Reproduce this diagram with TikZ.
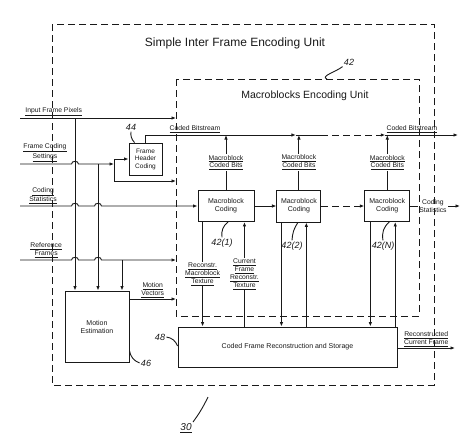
\documentclass[tikz,border=0pt]{standalone}
\usepackage{fontspec}
\setmainfont{Liberation Sans}
\usepackage{xcolor}
\usetikzlibrary{positioning,arrows,arrows.meta,calc}
\definecolor{inkblack}{RGB}{25,25,25}

\begin{document}
\begin{tikzpicture}[x=1pt, y=-1pt, >={Latex[length=4.5pt,width=3.5pt]}, line width=0.9pt, color=inkblack]
    \tikzstyle{block} = [rectangle, draw, text centered, align=center, font=\fontsize{7}{8}\selectfont, inner sep=1pt]
    \tikzstyle{signal} = [align=center, font=\fontsize{6.8}{7.8}\selectfont, inner sep=1pt]
    \tikzstyle{unit} = [draw, dash pattern=on 7pt off 4pt]
    \tikzstyle{hop} = [bend left=90, looseness=1.3]
    \tikzstyle{refnum} = [font=\itshape\fontsize{9}{9}\selectfont, inner sep=1pt]

    \useasboundingbox (0,0) rectangle (474,447);

    % Unit boundaries
    \draw[unit] (52,24) rectangle (434,385);
    \draw[unit] (176,79) rectangle (419,316);
    \node[font=\fontsize{12}{12}\selectfont] (outer_title) at (235,43) {Simple Inter Frame Encoding Unit};
    \node[font=\fontsize{10.5}{10.5}\selectfont] (inner_title) at (305,96) {Macroblocks Encoding Unit};

    % Coding blocks
    \node[block, minimum width=33pt, minimum height=32pt, font=\fontsize{6.5}{7.5}\selectfont] (header) at (145.5,159) {Frame\\Header\\Coding};
    \node[block, minimum width=56pt, minimum height=31pt] (mb_one) at (226,206) {Macroblock\\Coding};
    \node[block, minimum width=44pt, minimum height=32pt, right=22pt of mb_one] (mb_two) {Macroblock\\Coding};
    \node[block, minimum width=45pt, minimum height=31pt, right=43pt of mb_two] (mb_n) {Macroblock\\Coding};
    \node[block, minimum width=64pt, minimum height=71pt] (motion) at (97,326.5) {Motion\\Estimation};
    \node[block, minimum width=219pt, minimum height=40pt] (storage) at (287.5,347) {Coded Frame Reconstruction and Storage};

    % Signal ends
    \coordinate (pix_in) at (20,118);
    \coordinate (pix_end) at (176,118);
    \coordinate (set_in) at (20,164);
    \coordinate (set_fork) at (114,164);
    \coordinate (stat_in) at (20,206);
    \coordinate (ref_in) at (20,260);
    \coordinate (ref_end) at (176,260);
    \coordinate (hdr_end) at (176,181);
    \coordinate (mv_end) at (176,299);
    \coordinate (bits_out) at (458,135);
    \coordinate (stat_out) at (460,206);
    \coordinate (recon_out) at (455,348);
    \coordinate (tap_pix) at (75,118);
    \coordinate (tap_set) at (98,164);
    \coordinate (tap_ref) at (122,260);

    % Inputs
    \draw[->] (pix_in) -- (pix_end);
    \node[signal, above right=1pt and 4pt of pix_in] (pix_lbl) {\underline{Input Frame Pixels}};
    \draw[->] (set_in) -- ([xshift=-3.5pt]tap_pix |- set_in) to[hop] ([xshift=3.5pt]tap_pix |- set_in) -- (set_fork);
    \node[signal, above right=1pt and 2pt of set_in] (set_lbl) {\underline{Frame Coding}\\\underline{Settings}};
    \draw[->] (stat_in) -- ([xshift=-3.5pt]tap_pix |- stat_in) to[hop] ([xshift=3.5pt]tap_pix |- stat_in)
        -- ([xshift=-3.5pt]tap_set |- stat_in) to[hop] ([xshift=3.5pt]tap_set |- stat_in) -- (mb_one.west |- stat_in);
    \node[signal, above right=1pt and 8pt of stat_in] (stat_lbl) {\underline{Coding}\\\underline{Statistics}};
    \draw[->] (ref_in) -- ([xshift=-3.5pt]tap_pix |- ref_in) to[hop] ([xshift=3.5pt]tap_pix |- ref_in)
        -- ([xshift=-3.5pt]tap_set |- ref_in) to[hop] ([xshift=3.5pt]tap_set |- ref_in) -- (ref_end);
    \node[signal, above right=1pt and 9pt of ref_in] (ref_lbl) {\underline{Reference}\\\underline{Frames}};

    % Frame header
    \draw (set_fork |- header.west) -- (set_fork |- hdr_end);
    \draw[->] (set_fork |- header.west) -- (header.west);
    \draw[->] (set_fork |- hdr_end) -- (hdr_end);

    % Motion estimation
    \draw[->] (tap_pix) -- (tap_pix |- motion.north);
    \draw[->] (tap_set) -- (tap_set |- motion.north);
    \draw[->] (tap_ref) -- (tap_ref |- motion.north);
    \draw[->] (motion.east |- mv_end) -- (mv_end) node[signal, midway, above] {\underline{Motion}\\\underline{Vectors}};

    % Coded bitstream
    \draw[->] (header.north) |- ([xshift=-3pt]mb_two.north |- bits_out);
    \draw ([xshift=-3pt]mb_two.north |- bits_out) -- (mb_two.east |- bits_out);
    \draw[->, dash pattern=on 7pt off 4pt] (mb_two.east |- bits_out) -- ([xshift=-2pt]mb_n.north |- bits_out);
    \draw[->] ([xshift=-2pt]mb_n.north |- bits_out) -- (bits_out);
    \node[signal] (bits_lbl) at (195,129) {\underline{Coded Bitstream}};
    \node[signal] (bits_out_lbl) at (412,129) {\underline{Coded Bitstream}};
    \draw[->] (mb_one.north) -- (mb_one.north |- bits_out) node[signal, midway, fill=white] {\underline{Macroblock}\\\underline{Coded Bits}};
    \draw[->] (mb_two.north) -- (mb_two.north |- bits_out) node[signal, midway, fill=white] {\underline{Macroblock}\\\underline{Coded Bits}};
    \draw[->] (mb_n.north) -- (mb_n.north |- bits_out) node[signal, midway, fill=white] {\underline{Macroblock}\\\underline{Coded Bits}};

    % Macroblock chain
    \draw[->] (mb_one) -- (mb_two);
    \draw[->, dash pattern=on 7pt off 4pt] (mb_two) -- (mb_n);
    \node[signal] (stat_out_lbl) at (433,206) {Coding\\Statistics};
    \draw (mb_n) -- (stat_out_lbl);
    \draw[->] (stat_out_lbl) -- (stat_out);

    % Reconstruction
    \draw[->] ([xshift=5pt]mb_one.south west) -- ([xshift=5pt]mb_one.south west |- storage.north) node[signal, midway, fill=white] {\underline{Reconstr.}\\\underline{Macroblock}\\\underline{Texture}};
    \draw[->] ([xshift=-10pt]mb_one.south east |- storage.north) -- ([xshift=-10pt]mb_one.south east) node[signal, midway, fill=white] {\underline{Current}\\\underline{Frame}\\\underline{Reconstr.}\\\underline{Texture}};
    \draw[->] ([xshift=5pt]mb_two.south west) -- ([xshift=5pt]mb_two.south west |- storage.north);
    \draw[->] ([xshift=-15pt]mb_two.south east |- storage.north) -- ([xshift=-15pt]mb_two.south east);
    \draw[->] ([xshift=6pt]mb_n.south west) -- ([xshift=6pt]mb_n.south west |- storage.north);
    \draw[->] ([xshift=-15pt]mb_n.south east |- storage.north) -- ([xshift=-15pt]mb_n.south east);
    \draw[->] (storage.east |- recon_out) -- (recon_out) node[signal, midway, above] {\underline{Reconstructed}\\\underline{Current Frame}};

    % Reference numerals
    \node[refnum] (num_unit) at (349,62) {42};
    \draw (327,79) coordinate (tip_unit) to[out=160, in=220] (num_unit.south west);
    \node[refnum] (num_header) at (131,127) {44};
    \draw (num_header.south) to[bend right=25] ([xshift=6pt]header.north west);
    \node[refnum] (num_mb_one) at (222,243) {42(1)};
    \draw (num_mb_one.north) to[bend left=30] ([xshift=2pt]mb_one.south);
    \node[refnum] (num_mb_two) at (292,246) {42(2)};
    \draw (num_mb_two.north) to[bend left=15] ([xshift=-1pt]mb_two.south);
    \node[refnum] (num_mb_n) at (383,246) {42(N)};
    \draw (num_mb_n.north) to[bend left=30] ([xshift=2pt]mb_n.south);
    \node[refnum] (num_storage) at (160,337) {48};
    \draw (num_storage.east) to[bend left=30] ($(storage.west)+(0,-1)$);
    \node[refnum] (num_motion) at (146,363) {46};
    \draw (num_motion.west) to[bend left=30] ($(motion.south east)+(0,-12)$);
    \node[refnum, font=\itshape\fontsize{10}{10}\selectfont] (num_outer) at (186,428) {\underline{30}};
    \draw (num_outer.north east) to[bend right=5] (208,397);
\end{tikzpicture}
\end{document}
